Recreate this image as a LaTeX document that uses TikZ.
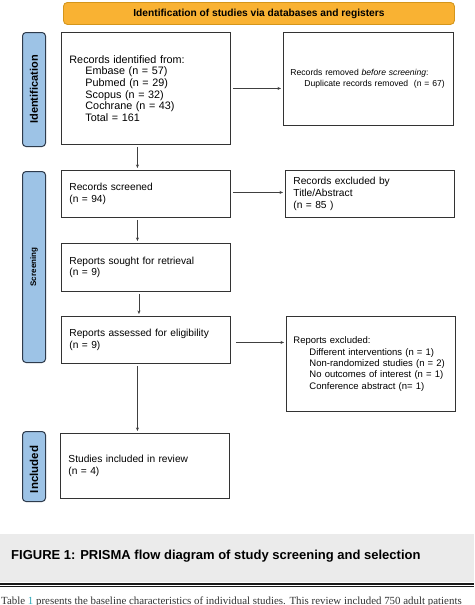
\documentclass[tikz,border=0pt]{standalone}
\usepackage{fontspec}
\setmainfont{Liberation Sans}
\newfontfamily\serifbody{Liberation Serif}
\usetikzlibrary{arrows.meta,positioning}
\definecolor{bannerfill}{HTML}{F9B233}
\definecolor{bannerdraw}{HTML}{D4961C}
\definecolor{sidefill}{HTML}{9DC3E6}
\definecolor{sidedraw}{HTML}{2E3B4C}
\definecolor{boxdraw}{HTML}{333333}
\definecolor{bandfill}{HTML}{EBEBEB}
\definecolor{linkcol}{HTML}{2AA6B8}
\tikzset{
  flowbox/.style={draw=boxdraw, line width=0.9pt, fill=white, anchor=north west,
    align=left, inner xsep=8pt, inner ysep=0pt},
  sidebox/.style={draw=sidedraw, line width=1pt, fill=sidefill, rounded corners=3.5pt,
    anchor=north west, minimum width=23pt, inner sep=0pt},
  sidetext/.style={rotate=90, font=\bfseries, text=black},
  arr/.style={draw=black!75, line width=0.6pt, -{Stealth[length=3.5pt,width=3pt]},
    shorten <=2pt, shorten >=2pt},
}
\begin{document}
\begin{tikzpicture}[x=1pt,y=-1pt]
\clip (0,0) rectangle (474,605);
\fill[white] (0,0) rectangle (474,605);

% banner
\node[draw=bannerdraw, line width=0.9pt, fill=bannerfill, rounded corners=4pt,
  anchor=north west, minimum width=391pt, minimum height=22pt, inner sep=0pt,
  font=\fontsize{10.2}{12}\selectfont\bfseries] (ban) at (63,2)
  {Identification of studies via databases and registers};

% side labels
\node[sidebox, minimum height=114pt] (sid) at (22,32) {};
\node[sidetext, font=\fontsize{11}{13}\selectfont\bfseries] at (sid) {Identification};
\node[sidebox, minimum height=191pt] (sscr) at (22,171) {};
\node[sidetext, font=\fontsize{8}{10}\selectfont\bfseries] at (sscr) {Screening};
\node[sidebox, minimum height=70pt] (sinc) at (22,431) {};
\node[sidetext, font=\fontsize{11.5}{13}\selectfont\bfseries] at ([yshift=-3pt]sinc) {Included};

% boxes
\node[flowbox, minimum width=169pt, minimum height=112pt, text width=153pt,
  font=\fontsize{10.8}{11.6}\selectfont] (rid) at (61,32)
  {Records identified from:\\
   \hspace*{16pt}Embase (n = 57)\\
   \hspace*{16pt}Pubmed (n = 29)\\
   \hspace*{16pt}Scopus (n = 32)\\
   \hspace*{16pt}Cochrane (n = 43)\\
   \hspace*{16pt}Total = 161};
\node[flowbox, inner xsep=7pt, minimum width=170pt, minimum height=93pt, text width=156pt,
  font=\fontsize{8.6}{10.5}\selectfont] (rrm) at (283,32)
  {Records removed \textit{before screening}:\\
   \hspace*{14pt}Duplicate records removed\ \ (n = 67)};
\node[flowbox, minimum width=169pt, minimum height=47pt, text width=153pt,
  font=\fontsize{10.2}{11.7}\selectfont] (rsc) at (61,170)
  {Records screened\\(n = 94)};
\node[flowbox, minimum width=169pt, minimum height=47pt, text width=153pt,
  font=\fontsize{10.2}{11.7}\selectfont] (rex) at (285,170)
  {Records excluded by\\Title/Abstract\\(n = 85 )};
\node[flowbox, minimum width=169pt, minimum height=48pt, text width=153pt,
  font=\fontsize{10.2}{11.7}\selectfont] (rso) at (61,243)
  {Reports sought for retrieval\\(n = 9)};
\node[flowbox, minimum width=169pt, minimum height=47pt, text width=153pt,
  font=\fontsize{10.2}{11.7}\selectfont] (ras) at (61,316)
  {Reports assessed for eligibility\\(n = 9)};
\node[flowbox, inner xsep=7pt, minimum width=169pt, minimum height=95pt, text width=155pt,
  font=\fontsize{9.5}{11.3}\selectfont] (rep) at (286,316)
  {Reports excluded:\\
   \hspace*{16pt}Different interventions (n = 1)\\
   \hspace*{16pt}Non-randomized studies (n = 2)\\
   \hspace*{16pt}No outcomes of interest (n = 1)\\
   \hspace*{16pt}Conference abstract (n= 1)};
\node[flowbox, minimum width=169pt, minimum height=65pt, text width=153pt,
  font=\fontsize{10.2}{11.7}\selectfont] (inc) at (60,433)
  {Studies included in review\\(n = 4)};

% connectors
\draw[arr] ([xshift=-8.5pt]rid.south) -- ([xshift=-8.5pt]rid.south |- rsc.north);
\draw[arr] ([xshift=-8.5pt]rsc.south) -- ([xshift=-8.5pt]rsc.south |- rso.north);
\draw[arr] ([xshift=-7pt]rso.south) -- ([xshift=-7pt]rso.south |- ras.north);
\draw[arr] ([xshift=-8.5pt]ras.south) -- ([xshift=-8.5pt]ras.south |- inc.north);
\draw[arr] (rid.east) -- (rid.east -| rrm.west);
\draw[arr] ([yshift=1.5pt]rsc.east) -- ([yshift=1.5pt]rsc.east -| rex.west);
\draw[arr, shorten <=5pt] ([yshift=-2.5pt]ras.east) -- ([yshift=-2.5pt]ras.east -| rep.west);

% caption band
\fill[bandfill] (0,534) rectangle (474,582);
\node[anchor=west, inner sep=0pt, font=\fontsize{13}{15}\selectfont\bfseries] (cap) at (11,556)
  {FIGURE 1: PRISMA flow diagram of study screening and selection};
\draw[line width=2pt, black!90] (0,583.7) -- (474,583.7);
\draw[line width=0.9pt, black!90] (0,586.3) -- (474,586.3);

% body text (cut off at the page edge, as in the reference)
\node[anchor=base west, inner sep=0pt, text=black!80,
  font=\serifbody\fontsize{10.9}{12}\selectfont] (body) at (1,604)
  {Table \textcolor{linkcol}{1} presents the baseline characteristics of individual studies. This review included 750 adult patients};
\end{tikzpicture}
\end{document}
